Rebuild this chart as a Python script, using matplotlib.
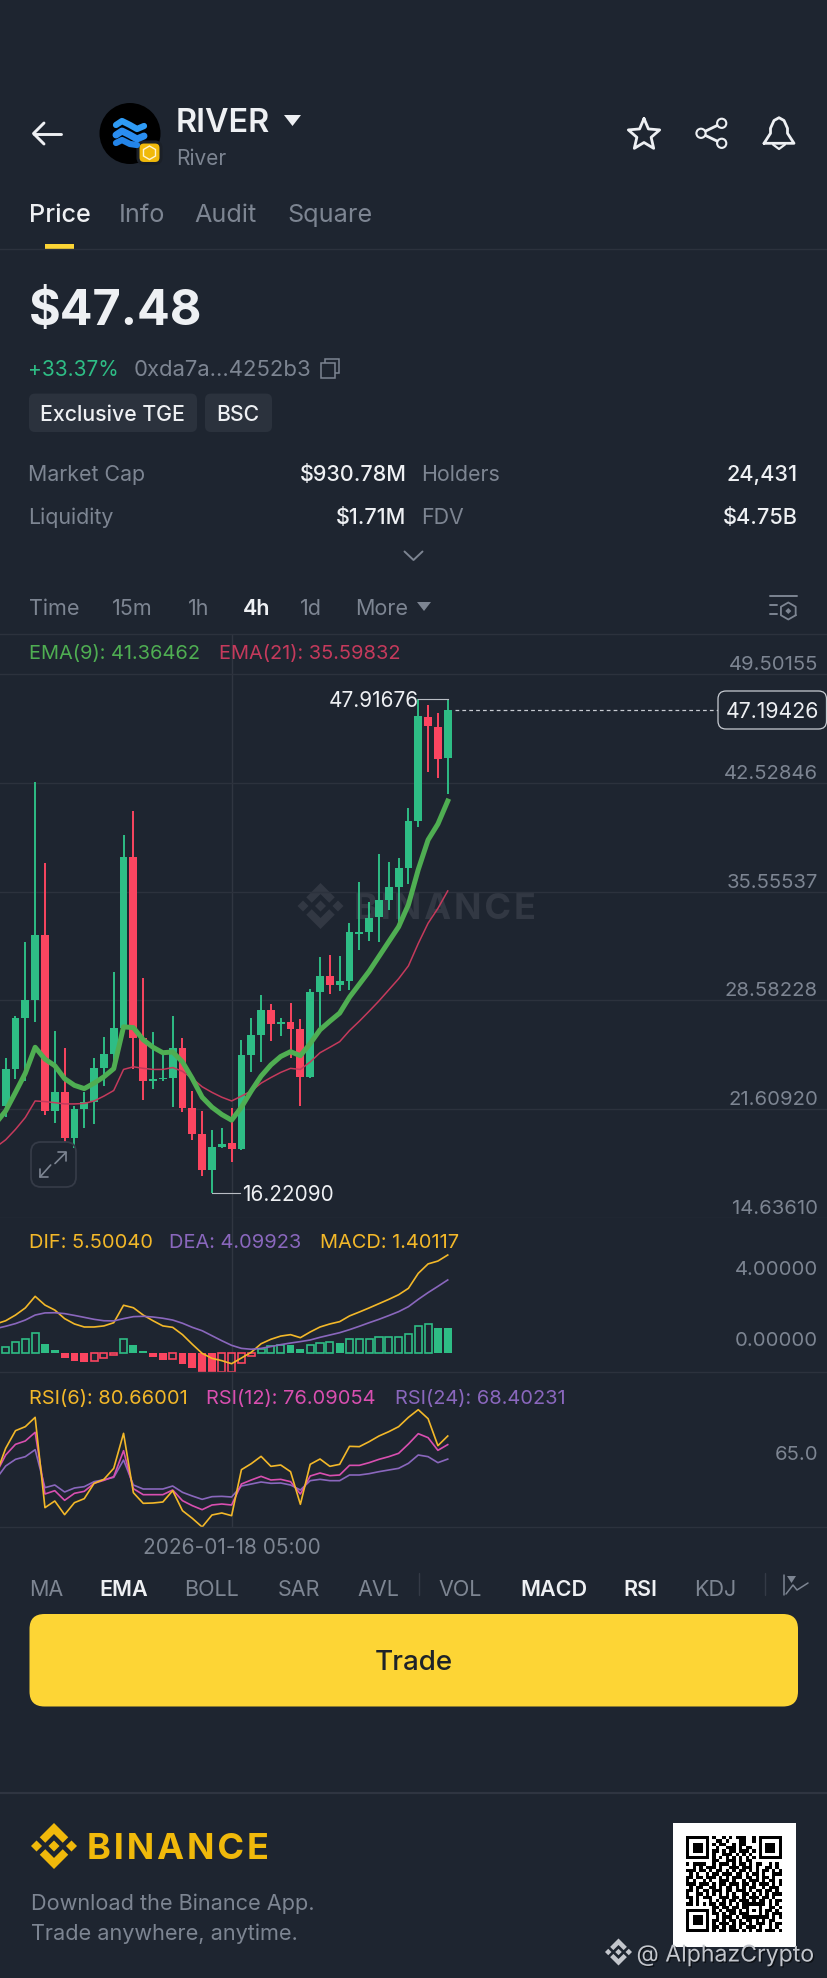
import numpy as np
import matplotlib
matplotlib.use("Agg")
import matplotlib.pyplot as plt
import matplotlib.patheffects as pe
from matplotlib.patches import FancyBboxPatch, Circle, Polygon, Rectangle

W, H = 828, 1978
BG = "#1e2530"
GRID = "#2c323d"
GRAY = "#7d8592"
WHITE = "#eef0f3"
UP = "#2ebd85"
DOWN = "#fb4560"
YELLOW = "#f3b829"
PINK = "#d94fb0"
PURPLE = "#8a67bd"
plt.rcParams["font.family"] = ["Inter", "DejaVu Sans"]

# candles
opens = [21.84,24.21,27.44,28.62,32.80,21.50,22.69,19.77,21.60,22.07,24.28,25.18,26.84,37.80,26.18,23.40,23.52,23.61,25.51,21.72,20.01,17.71,19.18,19.42,19.06,25.11,26.34,27.96,27.06,27.20,26.72,23.69,29.14,30.16,29.55,29.81,32.84,32.94,33.96,35.00,35.86,37.04,40.06,46.75,46.11,44.09]
highs = [24.87,27.60,32.35,42.55,37.40,26.65,25.51,21.79,22.74,24.92,26.25,30.38,39.16,40.72,30.05,26.53,25.11,27.60,26.18,22.78,21.48,20.25,20.41,21.67,26.06,27.48,28.91,28.38,27.48,28.43,27.41,29.33,31.35,31.47,31.40,33.53,36.19,34.89,37.99,37.45,37.69,40.94,47.92,47.53,47.01,47.92]
lows = [21.08,23.57,23.45,27.17,21.27,20.72,19.53,19.13,20.41,20.65,23.09,24.16,26.77,24.16,22.19,22.93,23.40,21.74,21.43,19.61,17.35,16.22,19.13,18.23,18.99,24.00,24.64,25.99,26.30,24.87,21.84,23.64,26.77,28.98,29.19,29.26,31.80,32.42,32.30,34.36,33.41,36.07,39.70,43.19,42.83,41.84]
closes = [24.21,27.44,28.62,32.80,21.50,22.69,19.77,21.60,22.07,24.28,25.18,26.84,37.80,26.18,23.40,23.52,23.61,25.51,21.72,20.01,17.71,19.18,19.37,19.06,25.11,26.34,27.96,27.06,27.20,26.72,23.69,29.14,30.16,29.55,29.81,32.94,32.94,33.84,35.00,35.86,37.04,40.11,46.82,46.16,44.04,47.19]

# line series start one candle left of the screen
ema9 = [20.72,21.50,22.69,23.92,25.58,24.82,24.40,23.57,23.14,22.93,23.28,23.69,24.21,26.89,26.84,26.06,25.58,25.23,25.28,24.64,23.57,22.38,21.74,21.27,20.91,21.74,22.78,23.73,24.45,24.99,25.30,25.04,25.82,26.70,27.25,27.77,28.79,29.62,30.45,31.40,32.35,33.30,34.72,36.97,38.87,39.89,41.36]
ema21 = [19.18,19.65,20.32,21.08,22.14,22.10,22.03,21.95,21.95,21.98,22.14,22.45,22.81,24.16,24.33,24.23,24.16,24.16,24.28,24.04,23.57,23.05,22.69,22.38,22.14,22.45,22.78,23.28,23.64,23.97,24.23,24.16,24.64,25.23,25.58,25.94,26.65,27.25,27.89,28.55,29.26,29.97,30.80,32.23,33.53,34.48,35.60]

macd_hist = [0.36,0.60,0.80,1.14,0.49,0.15,-0.26,-0.43,-0.51,-0.43,-0.26,-0.13,0.77,0.43,0.11,-0.22,-0.37,-0.35,-0.60,-0.82,-1.10,-1.12,-1.09,-1.05,-0.56,-0.17,0.22,0.39,0.46,0.45,0.22,0.45,0.58,0.60,0.58,0.77,0.79,0.80,0.88,0.90,0.92,1.05,1.50,1.61,1.40,1.40]
dif = [1.63,1.81,2.13,2.53,3.18,2.69,2.41,1.93,1.63,1.46,1.46,1.52,1.70,2.68,2.54,2.13,1.81,1.52,1.44,1.03,0.49,-0.02,-0.30,-0.43,-0.60,-0.28,0.04,0.52,0.77,0.95,1.03,0.86,1.18,1.46,1.63,1.76,2.08,2.30,2.53,2.77,3.01,3.27,3.63,4.47,5.00,5.16,5.50]
dea = [1.37,1.50,1.65,1.85,2.13,2.25,2.26,2.21,2.11,2.00,1.89,1.81,1.80,1.93,2.04,2.06,2.02,1.95,1.85,1.67,1.44,1.25,0.97,0.69,0.43,0.26,0.21,0.26,0.36,0.47,0.56,0.64,0.73,0.88,1.01,1.14,1.31,1.50,1.70,1.89,2.10,2.32,2.60,3.01,3.39,3.74,4.10]

rsi6 = [59.95,74.11,83.49,85.62,90.57,42.61,46.15,38.89,45.26,47.39,55.53,57.65,63.49,82.08,50.57,44.91,45.08,45.62,51.63,41.01,36.94,32.34,38.71,39.78,38.36,62.78,65.97,69.86,64.55,65.26,61.72,44.38,65.62,68.45,64.55,65.62,75.17,75.00,77.65,80.66,82.96,85.62,90.57,94.64,89.86,75.53,80.66]
rsi12 = [60.50,70.57,76.24,78.01,82.61,49.86,51.63,46.50,50.22,51.28,55.53,57.12,59.07,72.87,52.70,49.51,49.51,49.51,51.99,46.32,43.67,41.54,44.02,44.55,44.02,55.17,57.30,59.24,57.30,57.65,56.41,49.86,59.42,61.01,59.60,59.95,65.08,65.08,66.50,68.27,69.69,71.46,76.41,81.90,79.78,73.05,76.09]
rsi24 = [57.65,64.73,68.27,69.69,73.40,53.23,54.64,50.93,53.05,53.76,56.41,57.47,58.71,67.92,54.64,52.52,52.52,52.52,54.11,50.75,48.80,47.03,48.45,48.62,48.27,54.11,55.17,56.24,55.53,55.70,54.64,51.99,56.94,57.65,56.94,56.94,59.95,59.95,60.66,61.72,62.61,63.49,66.15,70.57,69.69,66.50,68.40]

price_ticks = [49.50155, 42.52846, 35.55537, 28.58228, 21.60920, 14.63610]
price_labels = ["49.50155", "42.52846", "35.55537", "28.58228", "21.60920", "14.63610"]
macd_ticks = [4.0, 0.0]
macd_labels = ["4.00000", "0.00000"]
rsi_ticks = [65.0]
rsi_labels = ["65.0"]
last_price = 47.19426
high_price = 47.91676
low_price = 16.22090

candle_x = np.arange(len(opens))
line_x = np.arange(-1, len(opens))
xlim = (-0.577, 83.71)
cross_x = 23
BRAND = "B\u200aI\u200aN\u200aA\u200aN\u200aC\u200aE"

fig = plt.figure(figsize=(W / 100, H / 100), dpi=100, facecolor=BG)


def canvas(z):
    a = fig.add_axes([0, 0, 1, 1], zorder=z)
    a.set_xlim(0, W)
    a.set_ylim(H, 0)
    a.axis("off")
    a.patch.set_alpha(0)
    return a


def pane(top, bottom, ylim, ticks, labels, lift):
    a = fig.add_axes([0, 1 - bottom / H, 1, (bottom - top) / H], zorder=2)
    a.set_facecolor("none")
    a.set_xlim(*xlim)
    a.set_ylim(*ylim)
    for s in a.spines.values():
        s.set_visible(False)
    a.set_xticks([])
    a.set_yticks([])
    a.axvline(cross_x, color="#303641", lw=1, zorder=0)
    for v, l in zip(ticks, labels):
        a.annotate(l, xy=(1, v), xycoords=("axes fraction", "data"), xytext=(-7.2, lift),
                   textcoords="offset points", ha="right", va="baseline",
                   fontsize=14.6, color=GRAY, annotation_clip=False)
    return a


def bnb(a, cx, cy, r, color):
    d = 0.24
    for ox in (-0.76, 0, 0.76):
        a.add_patch(Polygon([(cx + (ox - d) * r, cy), (cx + ox * r, cy - d * r),
                             (cx + (ox + d) * r, cy), (cx + ox * r, cy + d * r)], color=color, lw=0))
    for sg in (-1, 1):
        pts = [(0, 1), (0.62, 0.38), (0.38, 0.14), (0, 0.52), (-0.38, 0.14), (-0.62, 0.38)]
        a.add_patch(Polygon([(cx + x * r, cy + sg * y * r) for x, y in pts], color=color, lw=0))


back = canvas(0)
ui = canvas(5)


def t(x, y, s, size=15, color=WHITE, ha="left", weight="normal", a=None):
    (a or ui).text(x, y, s, fontsize=size, color=color, ha=ha, va="center_baseline", fontweight=weight)


def seg(pts, color=WHITE, lw=1.6):
    xs, ys = zip(*pts)
    ui.plot(xs, ys, color=color, lw=lw, solid_capstyle="round", solid_joinstyle="round")


# watermark behind the candles
bnb(back, 320.5, 906, 23, "#323843")
t(354, 906, BRAND, 26, "#323843", weight="bold", a=back)

# price pane
ylim_main = (14.63610 - 0.01, 49.50155 + 40 * 6.97309 / 108.8)
ax = pane(634, 1218.2, ylim_main, price_ticks, price_labels, 2.9)
for v in price_ticks:
    ax.axhline(v, color=GRID, lw=1, zorder=0)
colors = [UP if c >= o else DOWN for o, c in zip(opens, closes)]
ax.vlines(candle_x, lows, highs, colors=colors, lw=1.4, zorder=2)
ax.bar(candle_x, np.abs(np.array(closes) - np.array(opens)), bottom=np.minimum(opens, closes),
       width=0.8, color=colors, lw=0, zorder=3)
ax.plot(line_x, ema21, color="#c53a5c", lw=1.1, zorder=4)
ax.plot(line_x, ema9, color="#4fae52", lw=3.6, zorder=5, solid_joinstyle="round")
ax.plot([42, 45], [high_price, high_price], color="#b9bdc4", lw=0.8, zorder=4)
ax.plot([21, 21, 23.9], [lows[21], low_price, low_price], color="#b9bdc4", lw=0.8, zorder=4)
ax.hlines(last_price, 45.7, 72.5, color="#c8ccd2", lw=0.9, linestyles=(0, (3, 2.5)), zorder=4)
ax.text(42.05, high_price, "47.91676", fontsize=14.9, color=WHITE, ha="right", va="center_baseline")
ax.text(24.05, low_price, "16.22090", fontsize=14.9, color=WHITE, ha="left", va="center_baseline")

# MACD pane
ax2 = pane(1218, 1372, (-1.066, 7.576), macd_ticks, macd_labels, 5)
prev = [macd_hist[0] - 1] + macd_hist[:-1]
for x, v, p in zip(candle_x, macd_hist, prev):
    col = UP if v >= 0 else DOWN
    if v > p:
        ax2.bar(x, v, width=0.72, facecolor="none", edgecolor=col, lw=1.2, zorder=2)
    else:
        ax2.bar(x, v, width=0.8, color=col, lw=0, zorder=2)
ax2.plot(line_x, dif, color=YELLOW, lw=1.2, zorder=3)
ax2.plot(line_x, dea, color=PURPLE, lw=1.2, zorder=3)

# RSI pane
ax3 = pane(1372, 1527, (32.34, 114.65), rsi_ticks, rsi_labels, 4.3)
ax3.plot(line_x, rsi24, color=PURPLE, lw=1.2, zorder=2)
ax3.plot(line_x, rsi12, color=PINK, lw=1.2, zorder=3)
ax3.plot(line_x, rsi6, color=YELLOW, lw=1.2, zorder=4)

# dividers
for y in (249, 633.5, 1372, 1527):
    ui.plot([0, W], [y, y], color=GRID, lw=1)
ui.plot([0, W], [1792.7, 1792.7], color="#2f3541", lw=1.6)

# header
seg([(34, 133.5), (61, 133.5)], lw=2.1)
seg([(44, 123), (33.5, 133.5), (44, 144)], lw=2.1)
ui.add_patch(Circle((130, 133.5), 30.5, color="#000000", lw=0))
wx = np.array([116, 122, 130, 137, 144])
ui.plot(wx, [125, 121, 125, 129, 126], color="#2f9bf5", lw=4.5, solid_capstyle="round")
ui.plot(wx, [135, 131, 135, 139, 136], color="#2a8df0", lw=5, solid_capstyle="round")
ui.plot(wx[:-1], [143, 140, 144, 145], color="#2384e8", lw=4.5, solid_capstyle="round")
ui.add_patch(FancyBboxPatch((138, 142), 23, 21.5, boxstyle="round,pad=0,rounding_size=6", fc="#f0b90b", ec="#1b2028", lw=2.2))
ui.add_patch(Polygon([(149.5, 146), (155.5, 149.5), (155.5, 156), (149.5, 159.5), (143.5, 156), (143.5, 149.5)], fc="none", ec="#fff4cf", lw=1))
t(176, 120, "RIVER", 23.3, WHITE, weight="semibold")
ui.add_patch(Polygon([(284, 115), (301, 115), (292.5, 126)], color=WHITE, lw=0))
t(176, 157, "River", 15, GRAY)

ang = np.deg2rad(np.arange(0, 361, 36) - 90)
rad = np.where(np.arange(11) % 2 == 0, 16.5, 7.5)
seg(list(zip(644 + rad * np.cos(ang), 135 + rad * np.sin(ang))), lw=2)
seg([(721.7, 123.3), (701, 133.3), (721.7, 143.3)], lw=2)
for cx, cy in [(721.7, 123.3), (701, 133.3), (721.7, 143.3)]:
    ui.add_patch(Circle((cx, cy), 4.6, fc=BG, ec=WHITE, lw=1.5, zorder=4))
seg([(764, 143.3), (770.5, 133.3), (770.5, 128.3), (774, 120.5), (779, 117.7), (784, 120.5), (787.5, 128.3), (787.5, 133.3), (794, 143.3), (764, 143.3)], lw=2)
seg([(773, 144.5), (779, 149), (785, 144.5)], lw=1.6)

# tabs
for x, s, c in [(29, "Price", WHITE), (119, "Info", GRAY), (194.5, "Audit", GRAY), (287, "Square", GRAY)]:
    t(x, 213, s, 18.2, c, weight="medium" if c == WHITE else "normal")
ui.add_patch(Rectangle((45, 244), 29, 4.5, color="#fcd535", lw=0))

t(29, 307, "$47.48", 35, WHITE, weight="bold")
t(28.5, 368.5, "+33.37%", 15, UP)
t(133.5, 368.5, "0xda7a...4252b3", 15.9, GRAY)
ui.add_patch(Rectangle((325, 358.6), 14, 14, fc="none", ec=GRAY, lw=1.1))
ui.add_patch(Rectangle((321, 363), 14, 14.5, fc=BG, ec=GRAY, lw=1.1))

for x0, x1, s in [(29, 197, "Exclusive TGE"), (205, 272, "BSC")]:
    ui.add_patch(FancyBboxPatch((x0, 393.6), x1 - x0, 38.4, boxstyle="round,pad=0,rounding_size=6", fc="#2b323d", ec="none"))
    t((x0 + x1) / 2 - 0.5, 413, s, 15.3, WHITE, ha="center", weight="medium")

t(28.5, 473, "Market Cap", 15.4, GRAY)
t(406.5, 473, "$930.78M", 15.5, WHITE, ha="right", weight="medium")
t(421, 473, "Holders", 15.4, GRAY)
t(797.5, 473, "24,431", 15.6, WHITE, ha="right", weight="medium")
t(28.5, 515.5, "Liquidity", 15.4, GRAY)
t(406.5, 515.5, "$1.71M", 15.5, WHITE, ha="right", weight="medium")
t(421, 515.5, "FDV", 15.4, GRAY)
t(798, 515.5, "$4.75B", 15.6, WHITE, ha="right", weight="medium")
seg([(404.5, 551.5), (413.5, 560), (422.5, 551.5)], GRAY, 1.4)

# time row
for x, s, c in [(29.5, "Time", GRAY), (112, "15m", GRAY), (187.5, "1h", GRAY), (242.5, "4h", WHITE), (299.5, "1d", GRAY), (355.5, "More", GRAY)]:
    t(x, 607, s, 15.5, c, weight="semibold" if c == WHITE else "normal")
ui.add_patch(Polygon([(417, 602), (431, 602), (424, 611)], color=GRAY, lw=0))
seg([(770, 595.7), (797, 595.7)], GRAY, 1.4)
seg([(770, 604.7), (777, 604.7)], GRAY, 1.4)
seg([(770, 614), (777, 614)], GRAY, 1.4)
ang = np.deg2rad(np.arange(30, 391, 60))
seg(list(zip(788.3 + 8.5 * np.cos(ang), 611 + 8.5 * np.sin(ang))), GRAY, 1.3)
ui.add_patch(Polygon([(788.3, 608), (791.3, 611), (788.3, 614), (785.3, 611)], color=GRAY, lw=0))

# indicator legends
t(29.5, 652, "EMA(9): 41.36462", 14.4, "#4fae52")
t(219, 652, "EMA(21): 35.59832", 14.4, "#c53a5c")
t(29.5, 1241.5, "DIF: 5.50040", 14.4, YELLOW)
t(169.5, 1241.5, "DEA: 4.09923", 14.4, PURPLE)
t(320, 1241.5, "MACD: 1.40117", 14.4, YELLOW)
t(29.5, 1397, "RSI(6): 80.66001", 14.4, YELLOW)
t(206.5, 1397, "RSI(12): 76.09054", 14.4, PINK)
t(395.5, 1397, "RSI(24): 68.40231", 14.4, PURPLE)
t(232, 1546, "2026-01-18 05:00", 15, GRAY, ha="center")

# price box
ui.add_patch(FancyBboxPatch((718, 691), 108.5, 38, boxstyle="round,pad=0,rounding_size=8", fc=BG, ec="#c8ccd2", lw=0.9))
t(772.5, 710.5, "47.19426", 15.3, WHITE, ha="center")

# expand button
ui.add_patch(FancyBboxPatch((31, 1142), 45, 45, boxstyle="round,pad=0,rounding_size=10", fc="none", ec="#353b47", lw=1.3))
seg([(40, 1177), (50.7, 1165)], GRAY, 1.2)
seg([(40, 1169), (40, 1177), (48, 1177)], GRAY, 1.2)
seg([(55, 1163.5), (66, 1152.4)], GRAY, 1.2)
seg([(58, 1152.4), (66, 1152.4), (66, 1160.5)], GRAY, 1.2)

# indicator tabs
for x, s, c in [(29, "MA", GRAY), (99.5, "EMA", WHITE), (184.5, "BOLL", GRAY), (277.5, "SAR", GRAY), (357.5, "AVL", GRAY),
                (438.5, "VOL", GRAY), (520.5, "MACD", WHITE), (623.5, "RSI", WHITE), (694.5, "KDJ", GRAY)]:
    t(x, 1588, s, 15.5, c, weight="semibold" if c == WHITE else "normal")
seg([(419, 1573), (419, 1595)], "#343a46", 1)
seg([(765, 1573), (765, 1595)], "#343a46", 1)
seg([(784, 1575), (784, 1595)], GRAY, 1.1)
seg([(786, 1594), (793, 1585), (797, 1590), (808, 1583)], GRAY, 1.1)
ui.add_patch(Polygon([(787, 1576), (796, 1576), (791.5, 1583)], color=GRAY, lw=0))

# trade button
ui.add_patch(FancyBboxPatch((29.5, 1614), 768.5, 92.5, boxstyle="round,pad=0,rounding_size=15", fc="#fdd535", ec="none"))
t(414, 1660.5, "Trade", 20, "#1e2329", ha="center", weight="medium")

# footer
bnb(ui, 54, 1846, 23, "#f0b90b")
t(87, 1846, BRAND, 26, "#f0b90b", weight="bold")
t(31.5, 1902, "Download the Binance App.", 15.6, GRAY)
t(31.5, 1932, "Trade anywhere, anytime.", 15.6, GRAY)

qr_rows = [
    "#######.#..#.#.###..#.#######",
    "#.....#..##.#...##..#.#.....#",
    "#.###.#.#.##..#.##....#.###.#",
    "#.###.#..#..###.#.##..#.###.#",
    "#.###.#.##.#.##.###.#.#.###.#",
    "#.....#.#..###.#.#.#..#.....#",
    "#######.#.#.#.#.#.#.#.#######",
    "........##..###.#.##.........",
    "#.####..#.###.#.##.#.##..#.#.",
    "..#.#.###.#..###.###.#..##.#.",
    "###.##.#.##.#.#.##.#.#.##.#.#",
    ".#.#..#.##.###.##.#.##.#..###",
    "##.##.###.#.#.###.##.#.##.#..",
    "#.#..#.#..###.#..#.###.#.##.#",
    "###.###.#.##.###.##.#.###.#.#",
    ".#.##..##.#.##.#.#.##..#.###.",
    "##.#.##.###.##.###.#.##.##.#.",
    "#..##.#.#.#.#.#..##.#.#.#.###",
    "##.#.###..###.##.#.###.##.#..",
    ".#.#...#.#.#.##.###.#.##.#.##",
    "##.#.#.##.##.#.#.#######.#.#.",
    "........##.##.##.##...#..##.#",
    "#######.#.#.###.#.#.#.#.##.#.",
    "#.....#.##.#.##.###...#.#.###",
    "#.###.#..#.###.#.########.#.#",
    "#.###.#.##.#.##.#.##.#.#.##..",
    "#.###.#.#.###.#.##.#.###.#.##",
    "#.....#.##.#.##.#.###.#..#.#.",
    "#######.#.##.###.#.#.##.###.#",
]
ui.add_patch(Rectangle((673, 1823), 123, 124, color="#ffffff", lw=0))
qr = np.array([[0.0 if ch == "#" else 1.0 for ch in row] for row in qr_rows])
ui.imshow(qr, cmap="gray", vmin=0, vmax=1, extent=(685.7, 781.7, 1932, 1836), interpolation="nearest", aspect="auto", zorder=3)
ui.set_xlim(0, W)
ui.set_ylim(H, 0)

# watermark over the corner
bnb(ui, 618.5, 1952, 13.5, "#c3c6cc")
ui.text(636.5, 1953, "@ AlphazCrypto", fontsize=16.6, color="#c3c6cc", ha="left", va="center_baseline", zorder=6,
        path_effects=[pe.withSimplePatchShadow(offset=(1, -1), shadow_rgbFace="#000000", alpha=0.5)])

fig.savefig("out.png", dpi=100, facecolor=BG)
